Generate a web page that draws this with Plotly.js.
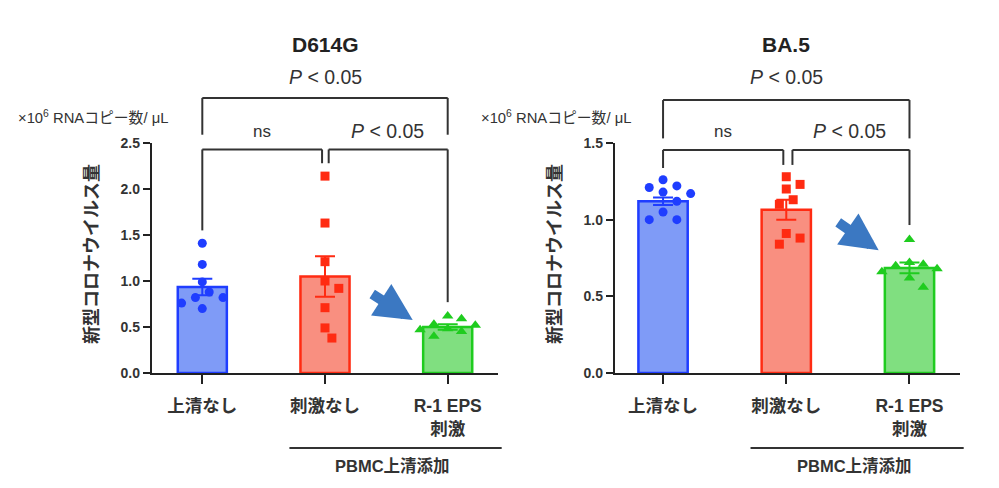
<!DOCTYPE html>
<html>
<head>
<meta charset="utf-8">
<script src="https://cdn.plot.ly/plotly-3.0.1.min.js"></script>
<style>html,body{margin:0;padding:0;background:#fff;}#chart{width:999px;height:488px;}</style>
</head>
<body>
<div id="chart"></div>
<script>
// ---------- data ----------
const categories = ['上清なし', '刺激なし', 'R-1 EPS<br>刺激'];
const yTicksLeft = [0, 0.5, 1.0, 1.5, 2.0, 2.5];
const yTicksRight = [0, 0.5, 1.0, 1.5];

const d614gNone = [1.41, 1.18, 0.99, 0.88, 0.82, 0.82, 0.76, 0.70];
const d614gUnstim = [2.14, 1.63, 1.21, 1.00, 0.92, 0.71, 0.49, 0.38];
const d614gR1 = [0.62, 0.59, 0.53, 0.52, 0.48, 0.47, 0.45, 0.40];
const d614gMeans = [0.935, 1.05, 0.50];
const d614gSem = [0.09, 0.22, 0.03];

const ba5None = [1.26, 1.22, 1.21, 1.18, 1.17, 1.12, 1.05, 1.00, 1.00];
const ba5Unstim = [1.28, 1.23, 1.20, 1.13, 1.10, 0.91, 0.88, 0.84];
const ba5R1 = [0.87, 0.72, 0.71, 0.70, 0.68, 0.66, 0.62, 0.56];
const ba5Means = [1.12, 1.065, 0.685];
const ba5Sem = [0.025, 0.065, 0.035];

const titles = ['D614G', 'BA.5'];
const pLabel = '<i>P</i> < 0.05';

// ---------- styling ----------
const FONT = 'Liberation Sans, Arial, "Noto Sans CJK JP", sans-serif';
const fills = ['#7f9bf7', '#f98f80', '#80df80'];
const edges = ['#1f3dff', '#ff2b12', '#1fcc1f'];
const symbols = ['circle', 'square', 'triangle-up'];
const W = 999, H = 488;
const yDom = [(H - 373) / H, (H - 143) / H];
const panels = [
  {xa: 'x', ya: 'y', dom: [152 / W, 498 / W], xr: [-0.41, 2.41], yr: [0, 2.5], ticks: yTicksLeft,
   pts: [d614gNone, d614gUnstim, d614gR1], means: d614gMeans, sem: d614gSem},
  {xa: 'x2', ya: 'y2', dom: [615 / W, 960 / W], xr: [-0.39, 2.41], yr: [0, 1.5], ticks: yTicksRight,
   pts: [ba5None, ba5Unstim, ba5R1], means: ba5Means, sem: ba5Sem}
];

function xp(p, c) { const P = panels[p]; return P.dom[0] + (c - P.xr[0]) / (P.xr[1] - P.xr[0]) * (P.dom[1] - P.dom[0]); }
function yp(p, v) { const P = panels[p]; return yDom[0] + (v - P.yr[0]) / (P.yr[1] - P.yr[0]) * (yDom[1] - yDom[0]); }

// simple beeswarm: spread overlapping points horizontally
function swarm(vals, pxX, pxY, diam) {
  const order = vals.map((v, i) => i).sort((a, b) => vals[b] - vals[a]);
  const placed = [];
  const off = new Array(vals.length).fill(0);
  const step = diam * 0.6 / pxX;
  order.forEach(i => {
    const cands = [0];
    for (let k = 1; k < 8; k++) { cands.push(k * step, -k * step); }
    for (const c of cands) {
      const ok = placed.every(q => {
        const dx = (q.x - c) * pxX, dy = (q.y - vals[i]) * pxY;
        return Math.sqrt(dx * dx + dy * dy) >= diam;
      });
      if (ok) { off[i] = c; placed.push({x: c, y: vals[i]}); break; }
    }
  });
  return off;
}

const traces = [];
panels.forEach((P, p) => {
  const pxX = (P.dom[1] - P.dom[0]) * W / (P.xr[1] - P.xr[0]);
  const pxY = (yDom[1] - yDom[0]) * H / (P.yr[1] - P.yr[0]);
  for (let g = 0; g < 3; g++) {
    traces.push({
      type: 'bar', x: [g], y: [P.means[g]], width: 0.4, xaxis: P.xa, yaxis: P.ya,
      marker: {color: fills[g], line: {color: edges[g], width: 2.5}},
      error_y: {type: 'data', array: [P.sem[g]], visible: true, color: edges[g], thickness: 2, width: 10},
      hoverinfo: 'skip', showlegend: false
    });
  }
  for (let g = 0; g < 3; g++) {
    const off = swarm(P.pts[g], pxX, pxY, 11.5);
    traces.push({
      type: 'scatter', mode: 'markers', xaxis: P.xa, yaxis: P.ya,
      x: P.pts[g].map((v, i) => g + off[i]), y: P.pts[g],
      marker: {symbol: symbols[g], size: g === 2 ? 10 : 9, color: edges[g], line: {width: 0}},
      cliponaxis: false, showlegend: false, hoverinfo: 'skip'
    });
  }
});

function xAxis(P) {
  return {
    domain: P.dom, range: P.xr, anchor: P.ya, tickmode: 'array', tickvals: [0, 1, 2], ticktext: categories,
    ticks: 'outside', ticklen: 9, tickwidth: 2, tickcolor: '#222', showline: true, linewidth: 2.2, linecolor: '#222',
    showgrid: false, zeroline: false, fixedrange: true, ticklabelstandoff: 7,
    tickfont: {family: FONT, size: 17.5, color: '#333', weight: 'bold'}
  };
}
function yAxis(P) {
  return {
    domain: yDom, range: P.yr, anchor: P.xa, tickmode: 'array', tickvals: P.ticks,
    ticktext: P.ticks.map(v => v.toFixed(1)),
    ticks: 'outside', ticklen: 7, tickwidth: 2, tickcolor: '#222', showline: true, linewidth: 2.2, linecolor: '#222',
    showgrid: false, zeroline: false, fixedrange: true,
    tickfont: {family: FONT, size: 14, color: '#333', weight: 'bold'}
  };
}

const shapes = [];
const annotations = [];
const LINE = {color: '#333', width: 2};
function seg(x0, y0, x1, y1) { shapes.push({type: 'line', xref: 'paper', yref: 'paper', x0, y0, x1, y1, line: LINE}); }
function bracket(p, c0, c1, yTop, yL, yR) {
  seg(xp(p, c0), yp(p, yTop), xp(p, c1), yp(p, yTop));
  seg(xp(p, c0), yp(p, yTop), xp(p, c0), yp(p, yL));
  seg(xp(p, c1), yp(p, yTop), xp(p, c1), yp(p, yR));
}
function txt(x, y, text, size, opts) {
  annotations.push(Object.assign({xref: 'paper', yref: 'paper', x, y, text, showarrow: false,
    xanchor: 'center', yanchor: 'middle', font: {family: FONT, size, color: '#333'}}, opts || {}));
}

// bracket levels (in each panel's data units)
const brk = [
  {top: 2.99, topLeg: 2.59, inner: 2.43, leg0: 1.55, legMid: 2.28, leg2: 0.77, mid0: 0.976, mid1: 1.03},
  {top: 1.78, topLeg: 1.53, inner: 1.455, leg0: 1.337, legMid: 1.357, leg2: 0.965, mid0: 0.976, mid1: 1.05}
];
panels.forEach((P, p) => {
  const b = brk[p];
  bracket(p, 0, 2, b.top, b.topLeg, b.topLeg);
  bracket(p, 0, b.mid0, b.inner, b.leg0, b.legMid);
  bracket(p, b.mid1, 2, b.inner, b.legMid, b.leg2);
  const cx = xp(p, 1);
  txt(cx, 1 - 45 / H, '<b>' + titles[p] + '</b>', 21, {font: {family: FONT, size: 21, color: '#222'}});
  txt(cx, 1 - 77 / H, pLabel, 19.5);
  txt(xp(p, 0.49), 1 - 132 / H, 'ns', 17);
  txt(xp(p, 1.51), 1 - 131 / H, pLabel, 19.5);
  // PBMC group line
  seg(xp(p, 0.71), 1 - 448 / H, xp(p, 2.44), 1 - 448 / H);
  txt(xp(p, 1.55), 1 - 466 / H, '<b>PBMC上清添加</b>', 16.5);
  // units & y title
  txt(P.dom[0] - 59 / W, 1 - 117 / H, '×10<sup>6</sup> RNAコピー数/ μL', 14.8);
  txt(P.dom[0] - 60 / W, 1 - 254 / H, '<b>新型コロナウイルス量</b>', 18, {textangle: -90});
  // arrow
  annotations.push({xref: P.xa, yref: P.ya, x: p === 0 ? 1.715 : 1.75, y: p === 0 ? 0.576 : 0.80,
    ax: -42, ay: p === 0 ? -27 : -29, text: '', showarrow: true, arrowhead: 2, arrowsize: 0.75,
    arrowwidth: 10, arrowcolor: '#3b78c2', standoff: 0});
});

const layout = {
  width: W, height: H, margin: {l: 0, r: 0, t: 0, b: 0},
  paper_bgcolor: '#fff', plot_bgcolor: 'rgba(0,0,0,0)', barmode: 'overlay', showlegend: false,
  xaxis: xAxis(panels[0]), yaxis: yAxis(panels[0]),
  xaxis2: xAxis(panels[1]), yaxis2: yAxis(panels[1]),
  shapes, annotations, font: {family: FONT}
};
Plotly.newPlot('chart', traces, layout, {staticPlot: true, displayModeBar: false});
</script>
</body>
</html>
